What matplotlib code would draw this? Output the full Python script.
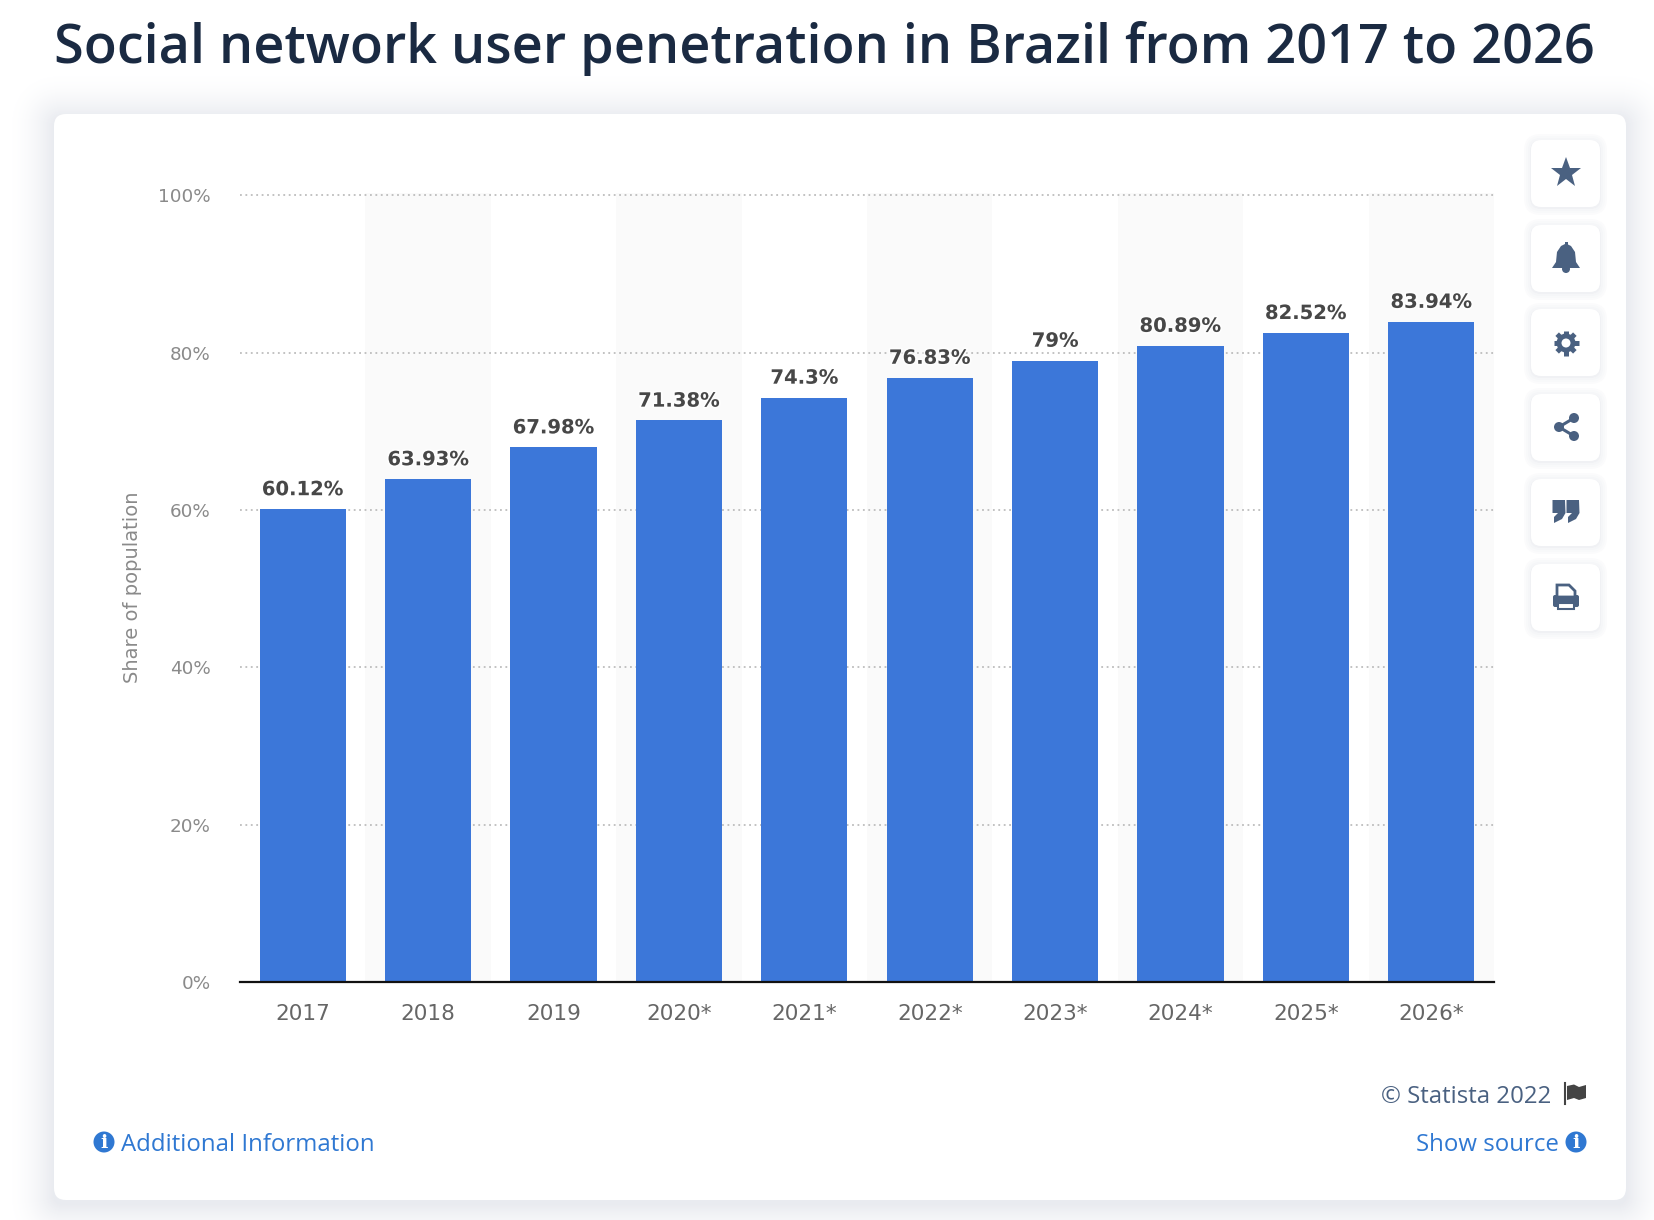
#!/usr/bin/env python3
import math
import matplotlib
matplotlib.use("Agg")
import matplotlib.pyplot as plt
import matplotlib.patheffects as pe
from matplotlib.colors import to_rgb
from matplotlib.patches import FancyBboxPatch, Circle, Polygon, Rectangle

W, H = 1654, 1220

years = ['2017', '2018', '2019', '2020*', '2021*', '2022*', '2023*', '2024*', '2025*', '2026*']
share = [60.12, 63.93, 67.98, 71.38, 74.3, 76.83, 79, 80.89, 82.52, 83.94]
share_labels = ['60.12%', '63.93%', '67.98%', '71.38%', '74.3%', '76.83%', '79%', '80.89%', '82.52%', '83.94%']
y_ticks = [0, 20, 40, 60, 80, 100]

BAR = '#3c77d9'
ICON = '#4a6181'
LINK = '#2f78d2'
NAVY = '#1a2a42'
SANS = ['Open Sans', 'DejaVu Sans']


def rounded(ax, x0, y0, x1, y1, r, **kw):
    """Rounded box given in pixel coordinates."""
    p = FancyBboxPatch((x0 + r, y0 + r), x1 - x0 - 2 * r, y1 - y0 - 2 * r,
                       boxstyle=f"round,pad={r},rounding_size={r}", linewidth=0, **kw)
    ax.add_patch(p)


def soft_shadow(ax, x0, y0, x1, y1, r, spread, drop, dark, zorder):
    """Opaque rings from white to the dark colour, so the fade has no banding."""
    rgb = to_rgb(dark)
    for grow in range(spread, 0, -1):
        t = (1 - grow / spread) ** 2
        c = tuple(1 + (v - 1) * t for v in rgb)
        rounded(ax, x0 - grow, y0 - grow + drop, x1 + grow, y1 + grow + drop, r + grow, color=c, zorder=zorder)


def info_icon(ax, cx, cy):
    ax.add_patch(Circle((cx, cy), 10.5, color=LINK, lw=0, zorder=5))
    ax.text(cx, cy + 0.5, 'i', color='white', fontsize=14, fontweight='bold', family='DejaVu Serif',
            ha='center', va='center', zorder=6)


def draw_icons(ax):
    # side buttons, top to bottom
    tops = [140, 225, 309, 394, 479, 564]
    for t in tops:
        for grow, c in [(7, '#fbfbfc'), (5, '#f8f9fa'), (3, '#f5f6f8'), (1, '#f0f1f4')]:
            rounded(ax, 1531 - grow, t - grow + 1, 1600 + grow, t + 67 + grow + 1, 10 + grow, color=c, zorder=3)
        rounded(ax, 1531, t, 1600, t + 67, 10, color='white', zorder=4)
    cx = 1566

    # star
    ax.plot([cx], [173], marker='*', ms=23, color=ICON, mew=0, zorder=5)

    # bell
    ax.add_patch(Polygon([(cx - 14, 268), (cx - 10, 262), (cx - 9, 252), (cx - 5, 246), (cx - 1, 244),
                          (cx + 1, 244), (cx + 5, 246), (cx + 9, 252), (cx + 10, 262), (cx + 14, 268)],
                         closed=True, color=ICON, lw=0, zorder=5))
    ax.add_patch(Rectangle((cx - 1.5, 242), 3, 4, color=ICON, lw=0, zorder=5))
    ax.add_patch(Circle((cx, 269), 4, color=ICON, lw=0, zorder=5))

    # gear, eight stubby teeth around a ring
    gy = 343
    for k in range(8):
        a = k * math.pi / 4
        ax.plot([cx, cx + 12.5 * math.cos(a)], [gy, gy + 12.5 * math.sin(a)], color=ICON, lw=3.6,
                solid_capstyle='butt', zorder=5)
    ax.add_patch(Circle((cx, gy), 9.5, color=ICON, lw=0, zorder=5))
    ax.add_patch(Circle((cx, gy), 4.5, color='white', lw=0, zorder=6))

    # share
    pts = [(cx + 8, 418), (cx - 7, 427), (cx + 8, 436)]
    ax.plot(*zip(*pts), color=ICON, lw=2.2, zorder=5)
    for p in pts:
        ax.add_patch(Circle(p, 5, color=ICON, lw=0, zorder=5))

    # quotes
    for off in (-7, 7):
        ax.add_patch(Polygon([(cx + off - 6.5, 500), (cx + off + 6, 500), (cx + off + 6.5, 513),
                              (cx + off + 3, 519), (cx + off - 5, 523), (cx + off - 5, 517),
                              (cx + off - 1, 513), (cx + off - 6.5, 513)],
                             closed=True, color=ICON, lw=0, zorder=5))

    # printer
    rounded(ax, cx - 13, 595, cx + 13, 607, 2, color=ICON, zorder=5)
    ax.add_patch(Polygon([(cx - 9, 597), (cx - 9, 585), (cx + 3, 585), (cx + 9, 591), (cx + 9, 597)],
                         closed=True, fc='white', ec=ICON, lw=2, zorder=5))
    ax.add_patch(Rectangle((cx - 8, 603), 16, 6, fc='white', ec=ICON, lw=1.5, zorder=6))

    # flag next to the copyright line
    ax.plot([1564.5, 1564.5], [1083, 1104], color='#444444', lw=1.5, zorder=5)
    ax.add_patch(Polygon([(1567, 1086), (1574, 1084.5), (1579, 1087), (1586, 1085), (1586, 1098),
                          (1579, 1100), (1574, 1098), (1567, 1100)],
                         closed=True, color='#444444', lw=0, zorder=5))

    info_icon(ax, 104, 1142)
    info_icon(ax, 1576, 1142)


def main():
    fig = plt.figure(figsize=(W / 100, H / 100), dpi=100, facecolor='white')

    # page layer, in pixel coordinates
    bg = fig.add_axes([0, 0, 1, 1], zorder=0)
    bg.set_xlim(0, W)
    bg.set_ylim(H, 0)
    bg.axis('off')
    soft_shadow(bg, 54, 114, 1626, 1200, 12, spread=50, drop=4, dark='#e8eaef', zorder=1)
    rounded(bg, 54, 114, 1626, 1200, 12, color='white', zorder=2)
    draw_icons(bg)

    bg.text(54, 48.5, 'Social network user penetration in Brazil from 2017 to 2026', color=NAVY,
            fontsize=38.93, fontweight=600, family=SANS, ha='left', va='center', zorder=6)
    bg.text(1551, 1097, '\u00a9 Statista 2022', color=ICON, fontsize=17.3, family=SANS, ha='right', va='center')
    bg.text(121, 1145, 'Additional Information', color=LINK, fontsize=17.3, family=SANS, ha='left', va='center')
    bg.text(1559, 1145, 'Show source', color=LINK, fontsize=17.3, family=SANS, ha='right', va='center')

    # chart layer
    top, bottom, left, right = 193, 982, 240, 1494
    ax = fig.add_axes([left / W, 1 - bottom / H, (right - left) / W, (bottom - top) / H], zorder=5)
    ax.patch.set_alpha(0)
    x = list(range(len(years)))
    ax.set_xlim(-0.5, len(years) - 0.5)
    ax.set_ylim(0, 100.3)

    for i in x:
        if i % 2 == 1:
            ax.axvspan(i - 0.5, i + 0.5, ymax=1, color='#fafafa', lw=0, zorder=0)
    ax.yaxis.grid(True, linestyle=(0, (1, 2)), color='#bdbdbd', linewidth=1.3, zorder=1)
    ax.set_axisbelow(True)
    ax.bar(x, share, width=0.686, color=BAR, zorder=2)

    for xi, v, lab in zip(x, share, share_labels):
        ax.annotate(lab, (xi, v), xytext=(0, 10), textcoords='offset points', ha='center', va='baseline',
                    fontsize=14.1, fontweight='bold', color='#474747', zorder=3,
                    path_effects=[pe.withStroke(linewidth=2.5, foreground='white', alpha=0.8)])

    for s in ('top', 'left', 'right'):
        ax.spines[s].set_visible(False)
    ax.spines['bottom'].set_color('#111111')
    ax.spines['bottom'].set_linewidth(1.6)

    ax.set_xticks(x)
    ax.set_xticklabels(years, fontsize=15.6, color='#666666')
    ax.set_yticks(y_ticks)
    ax.set_yticklabels([f'{t}%' for t in y_ticks], fontsize=13.2, color='#8a8a8a')
    ax.tick_params(axis='x', length=0, pad=16)
    ax.tick_params(axis='y', length=0, pad=21)
    ax.set_ylabel('Share of population', fontsize=14, color='#8a8a8a', va='center')
    ax.yaxis.set_label_coords((132 - left) / (right - left), (bottom - 587) / (bottom - top))

    fig.savefig('out.png', dpi=100, facecolor='white')
    plt.close(fig)


if __name__ == "__main__":
    main()
